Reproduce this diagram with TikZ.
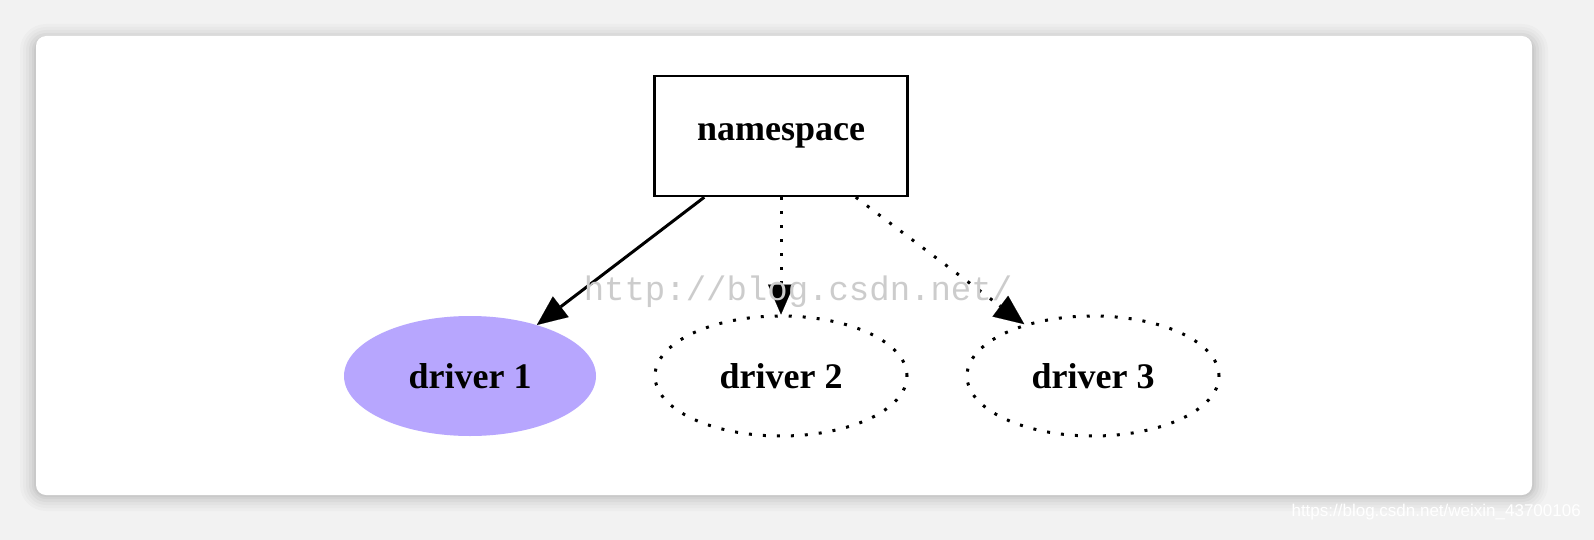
\documentclass[tikz,border=0pt]{standalone}
\usepackage{fontspec}
\setmainfont{Liberation Serif}
\newfontfamily\wmono{Liberation Mono}
\newfontfamily\wsans{Liberation Sans}
\usetikzlibrary{shapes.geometric,arrows.meta,calc}
\definecolor{pur}{HTML}{B7A6FE}
\begin{document}
\begin{tikzpicture}[x=1pt,y=-1pt,
  lbl/.style={font=\fontsize{36}{40}\selectfont\bfseries},
  ell/.style={ellipse,minimum width=252pt,minimum height=120pt,inner sep=0pt,lbl},
  dotline/.style={line width=3pt,dash pattern=on 3pt off 11pt},
  arr/.style={line width=3pt,-{Triangle[length=30pt,width=26pt,line width=0.1pt,fill=black]}}]
\useasboundingbox (0,0) rectangle (1594,540);
\fill[gray!10] (0,0) rectangle (1594,540);
\foreach \s/\o in {16/0.02,13/0.02,10/0.025,7/0.03,4/0.035,2/0.04}{
  \fill[black,opacity=\o,rounded corners=10pt+\s pt] (36-\s,36-\s+4) rectangle (1532+\s,495+\s);}
\fill[white,rounded corners=10pt] (36,36) rectangle (1532,495);
\node[draw,line width=2.5pt,minimum width=253pt,minimum height=120pt,lbl] (ns) at (781,136) {namespace};
\node[ell,fill=pur] (d1) at (470,376) {driver 1};
\node[ell,draw,dotline] (d2) at (781,376) {driver 2};
\node[ell,draw,dotline] (d3) at (1093,376) {driver 3};
\coordinate (a1) at ($(ns.south west)+(51,0)$);
\coordinate (a3) at ($(ns.south east)+(-53,0)$);
\draw[arr] (a1) -- (d1);
\path (ns.south) -- (d2) coordinate[pos=1] (e2);
\path (a3) -- (d3) coordinate[pos=1] (e3);
\draw[dotline] (ns.south) -- ($(e2)!29pt!(ns.south)$);
\draw[arr] ($(e2)!31pt!(ns.south)$) -- (e2);
\draw[dotline] (a3) -- ($(e3)!29pt!(a3)$);
\draw[arr] ($(e3)!31pt!(a3)$) -- (e3);
\node[font=\wmono\fontsize{34}{38}\selectfont,text=gray!40] (wm) at (798,292) {http://blog.csdn.net/};
\node[font=\wsans\fontsize{17}{20}\selectfont,text=white,anchor=west] (wm2) at (1288,512) {https://blog.csdn.net/weixin\_43700106};
\end{tikzpicture}
\end{document}
